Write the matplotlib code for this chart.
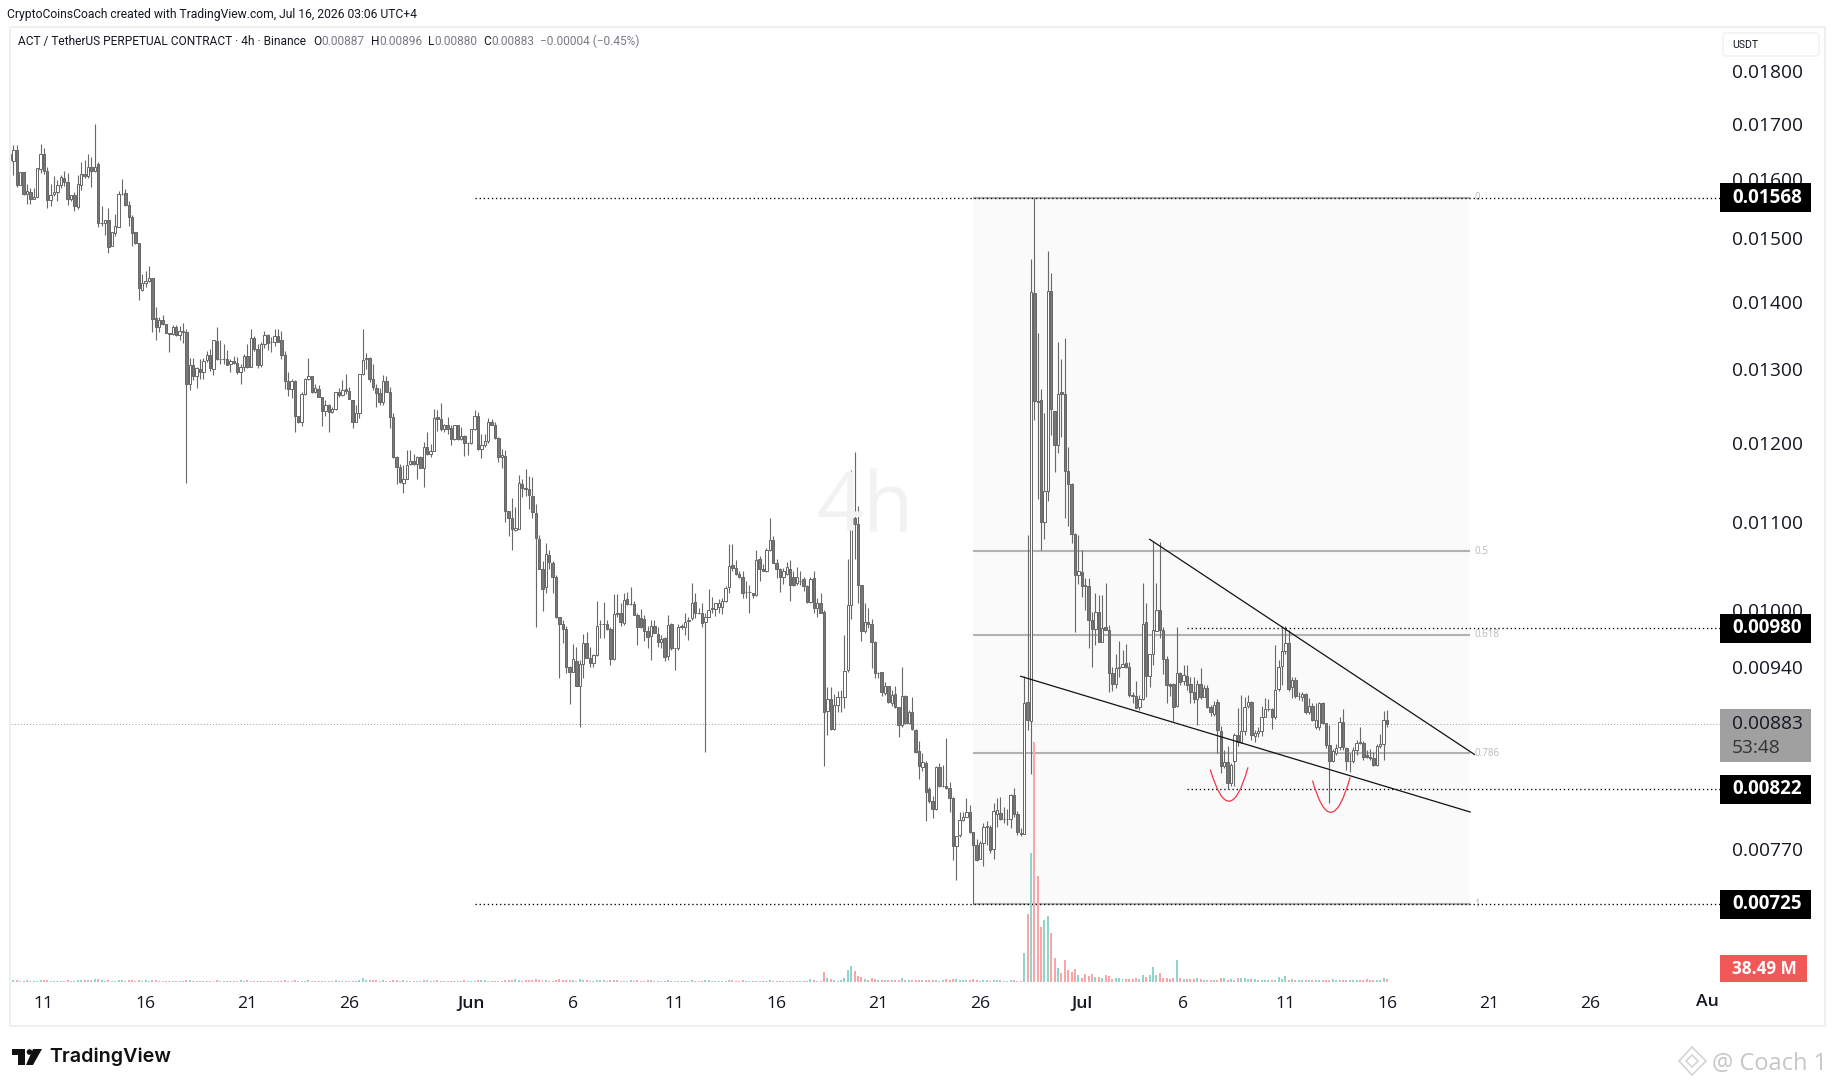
import pandas as pd
import matplotlib
matplotlib.use("Agg")
import matplotlib.pyplot as plt
import matplotlib.dates as mdates
from matplotlib.patches import Rectangle, Polygon, PathPatch, FancyBboxPatch
from matplotlib.path import Path
from matplotlib.ticker import NullLocator

# prices are in units of 0.00001 USDT, one row per 10 candles
opens = [
    1633, 1632, 1652, 1590, 1612, 1575, 1578, 1566, 1569, 1618,
    1644, 1615, 1564, 1574, 1577, 1590, 1602, 1595, 1565, 1572,
    1552, 1590, 1609, 1605, 1622, 1615, 1626, 1525, 1525, 1530,
    1488, 1508, 1519, 1574, 1576, 1555, 1535, 1510, 1492, 1417,
    1429, 1432, 1436, 1375, 1361, 1372, 1366, 1352, 1351, 1362,
    1350, 1355, 1354, 1280, 1306, 1291, 1301, 1297, 1313, 1321,
    1300, 1341, 1315, 1315, 1315, 1308, 1312, 1309, 1296, 1303,
    1319, 1304, 1345, 1329, 1306, 1336, 1350, 1340, 1340, 1348,
    1342, 1321, 1284, 1272, 1284, 1236, 1227, 1265, 1287, 1290,
    1268, 1273, 1262, 1242, 1250, 1241, 1245, 1268, 1264, 1273,
    1270, 1258, 1227, 1240, 1293, 1315, 1316, 1287, 1274, 1267,
    1254, 1284, 1268, 1234, 1182, 1169, 1149, 1153, 1172, 1176,
    1172, 1181, 1168, 1194, 1185, 1189, 1234, 1232, 1218, 1223,
    1220, 1205, 1224, 1205, 1209, 1200, 1200, 1218, 1236, 1192,
    1197, 1202, 1228, 1224, 1206, 1181, 1183, 1114, 1105, 1091,
    1092, 1147, 1142, 1141, 1132, 1112, 1080, 1046, 1025, 1062,
    1052, 1036, 992, 985, 979, 940, 934, 946, 920, 943,
    964, 949, 944, 952, 985, 985, 985, 979, 948, 996,
    997, 986, 1012, 1006, 1006, 994, 991, 990, 977, 972,
    983, 974, 966, 970, 951, 985, 959, 959, 982, 981,
    988, 991, 1009, 996, 996, 987, 992, 1002, 1001, 1003,
    1003, 1010, 1025, 1050, 1047, 1040, 1036, 1020, 1020, 1018,
    1016, 1057, 1045, 1043, 1068, 1079, 1052, 1045, 1036, 1040,
    1046, 1036, 1030, 1032, 1034, 1026, 1009, 1035, 1002, 1008,
    998, 895, 907, 878, 901, 909, 909, 936, 1005, 1105,
    1098, 1027, 977, 987, 985, 966, 933, 934, 913, 920,
    903, 912, 899, 882, 910, 884, 894, 877, 857, 842,
    846, 822, 812, 805, 842, 825, 825, 823, 814, 773,
    782, 795, 798, 802, 785, 774, 762, 775, 789, 789,
    770, 800, 801, 796, 796, 796, 817, 800, 784, 783,
    904, 886, 1413, 1256, 1258, 1100, 1138, 1416, 1243, 1197,
    1268, 1266, 1164, 1147, 1086, 1039, 1042, 1027, 1026, 989,
    979, 998, 966, 981, 978, 933, 922, 938, 940, 944,
    939, 911, 910, 899, 907, 987, 930, 953, 977, 1000,
    978, 948, 922, 922, 900, 933, 925, 930, 922, 914,
    907, 922, 909, 918, 899, 893, 904, 876, 843, 847,
    828, 848, 872, 866, 876, 900, 904, 871, 874, 876,
    890, 897, 897, 890, 917, 941, 956, 964, 919, 926,
    910, 909, 912, 894, 900, 880, 880, 903, 884, 863,
    848, 855, 861, 885, 860, 848, 848, 858, 866, 865,
    853, 852, 851, 844, 862, 864, 887,
]
highs = [
    1645, 1661, 1660, 1612, 1612, 1591, 1584, 1585, 1619, 1662,
    1656, 1622, 1591, 1605, 1598, 1607, 1614, 1610, 1573, 1577,
    1607, 1631, 1634, 1644, 1640, 1700, 1631, 1553, 1530, 1550,
    1510, 1540, 1580, 1601, 1583, 1563, 1538, 1510, 1492, 1442,
    1447, 1456, 1436, 1391, 1376, 1379, 1366, 1353, 1365, 1365,
    1363, 1368, 1359, 1317, 1316, 1303, 1315, 1316, 1326, 1330,
    1342, 1362, 1343, 1336, 1328, 1315, 1319, 1318, 1308, 1322,
    1336, 1359, 1348, 1336, 1339, 1355, 1351, 1347, 1359, 1359,
    1356, 1327, 1296, 1287, 1285, 1236, 1269, 1288, 1316, 1291,
    1280, 1278, 1262, 1257, 1252, 1248, 1269, 1274, 1285, 1294,
    1275, 1258, 1251, 1293, 1359, 1324, 1318, 1308, 1280, 1274,
    1292, 1291, 1275, 1240, 1183, 1172, 1171, 1190, 1190, 1185,
    1183, 1183, 1201, 1214, 1199, 1245, 1244, 1253, 1225, 1234,
    1224, 1224, 1224, 1221, 1210, 1201, 1218, 1244, 1241, 1212,
    1212, 1233, 1232, 1228, 1207, 1192, 1191, 1114, 1130, 1119,
    1159, 1153, 1166, 1157, 1156, 1122, 1085, 1055, 1076, 1068,
    1055, 1039, 992, 989, 982, 941, 963, 960, 947, 974,
    976, 960, 953, 1010, 989, 1009, 989, 981, 1017, 1017,
    1007, 1018, 1020, 1025, 1010, 996, 1001, 994, 983, 989,
    989, 981, 973, 971, 994, 986, 959, 985, 985, 996,
    992, 1030, 1018, 1002, 1008, 996, 1023, 1014, 1008, 1012,
    1013, 1026, 1075, 1074, 1056, 1043, 1043, 1032, 1027, 1019,
    1067, 1061, 1051, 1070, 1105, 1084, 1057, 1047, 1047, 1053,
    1056, 1043, 1048, 1043, 1037, 1028, 1037, 1043, 1013, 1019,
    1000, 919, 919, 912, 915, 916, 973, 1057, 1165, 1188,
    1120, 1027, 1007, 1002, 990, 967, 934, 934, 924, 920,
    916, 920, 899, 939, 911, 896, 909, 878, 867, 855,
    848, 824, 816, 843, 846, 844, 869, 829, 815, 781,
    802, 802, 814, 808, 785, 779, 777, 792, 794, 791,
    810, 814, 815, 806, 805, 818, 823, 803, 788, 930,
    1085, 1466, 1568, 1352, 1273, 1240, 1480, 1444, 1243, 1339,
    1315, 1346, 1195, 1148, 1087, 1085, 1067, 1035, 1035, 998,
    1019, 1016, 1016, 1030, 984, 939, 953, 967, 957, 963,
    945, 914, 925, 911, 1030, 1007, 953, 1078, 1030, 1077,
    981, 951, 923, 923, 981, 934, 942, 942, 929, 929,
    926, 938, 921, 921, 901, 905, 907, 881, 858, 862,
    846, 874, 898, 911, 909, 911, 905, 877, 880, 900,
    908, 907, 898, 962, 947, 983, 983, 978, 929, 929,
    914, 914, 913, 908, 903, 903, 904, 904, 884, 882,
    859, 864, 890, 897, 861, 855, 861, 868, 880, 867,
    858, 859, 856, 864, 873, 895, 896,
]
lows = [
    1630, 1607, 1586, 1590, 1572, 1557, 1558, 1565, 1569, 1610,
    1609, 1550, 1553, 1571, 1562, 1585, 1588, 1556, 1563, 1545,
    1549, 1581, 1602, 1602, 1586, 1613, 1519, 1520, 1506, 1476,
    1488, 1504, 1518, 1572, 1554, 1521, 1488, 1491, 1402, 1416,
    1422, 1430, 1354, 1343, 1354, 1365, 1352, 1325, 1350, 1349,
    1343, 1338, 1148, 1271, 1285, 1274, 1286, 1286, 1310, 1298,
    1292, 1314, 1308, 1308, 1306, 1296, 1308, 1294, 1280, 1298,
    1302, 1303, 1327, 1302, 1303, 1331, 1328, 1325, 1333, 1339,
    1315, 1273, 1263, 1260, 1214, 1226, 1222, 1264, 1285, 1267,
    1267, 1262, 1222, 1236, 1214, 1240, 1244, 1261, 1263, 1266,
    1259, 1220, 1227, 1233, 1292, 1301, 1282, 1271, 1248, 1251,
    1251, 1268, 1220, 1180, 1147, 1149, 1136, 1153, 1171, 1171,
    1153, 1168, 1143, 1184, 1182, 1189, 1215, 1216, 1214, 1212,
    1197, 1203, 1203, 1203, 1183, 1184, 1199, 1217, 1191, 1180,
    1194, 1200, 1223, 1205, 1175, 1168, 1100, 1084, 1067, 1090,
    1092, 1131, 1132, 1116, 1105, 981, 1045, 999, 1019, 1045,
    1018, 991, 928, 964, 933, 902, 934, 920, 880, 928,
    949, 940, 940, 951, 970, 970, 978, 942, 947, 992,
    983, 984, 1005, 1005, 994, 962, 980, 967, 959, 947,
    975, 960, 959, 946, 947, 957, 936, 957, 979, 973,
    968, 989, 991, 995, 981, 856, 992, 997, 993, 997,
    995, 1009, 1019, 1043, 1039, 1035, 1013, 1013, 996, 1013,
    1015, 1032, 1043, 1042, 1066, 1052, 1035, 1020, 1029, 1039,
    1010, 1026, 1028, 1028, 1021, 1008, 1007, 997, 992, 996,
    843, 872, 877, 877, 894, 894, 898, 934, 990, 1057,
    1008, 967, 975, 980, 938, 928, 928, 910, 911, 903,
    900, 898, 870, 880, 883, 883, 877, 855, 831, 839,
    794, 810, 797, 804, 824, 824, 822, 802, 761, 745,
    780, 794, 798, 784, 725, 760, 762, 756, 774, 767,
    762, 789, 795, 792, 791, 788, 798, 782, 781, 783,
    877, 836, 1230, 1128, 1067, 1080, 1126, 1210, 1162, 1187,
    1208, 1105, 1096, 1076, 976, 1029, 1014, 1000, 959, 940,
    962, 965, 965, 978, 914, 915, 918, 929, 940, 938,
    909, 903, 898, 896, 906, 909, 919, 942, 977, 970,
    932, 903, 910, 886, 899, 921, 921, 916, 903, 903,
    882, 907, 909, 898, 891, 891, 855, 837, 841, 822,
    825, 825, 862, 865, 872, 898, 868, 866, 870, 871,
    890, 895, 878, 888, 915, 921, 953, 915, 908, 908,
    906, 905, 893, 893, 886, 878, 877, 883, 860, 810,
    847, 853, 858, 858, 840, 838, 846, 853, 864, 849,
    851, 849, 843, 843, 860, 849, 880,
]
closes = [
    1645, 1652, 1590, 1612, 1575, 1580, 1565, 1570, 1619, 1644,
    1615, 1564, 1573, 1578, 1590, 1604, 1595, 1565, 1572, 1553,
    1592, 1609, 1605, 1622, 1615, 1622, 1526, 1526, 1530, 1486,
    1510, 1520, 1574, 1574, 1555, 1535, 1508, 1492, 1421, 1429,
    1432, 1437, 1374, 1361, 1372, 1366, 1353, 1351, 1362, 1350,
    1356, 1354, 1280, 1306, 1291, 1302, 1296, 1312, 1321, 1302,
    1342, 1315, 1315, 1315, 1307, 1312, 1309, 1296, 1303, 1319,
    1303, 1345, 1329, 1306, 1336, 1350, 1338, 1339, 1348, 1340,
    1320, 1284, 1272, 1284, 1235, 1227, 1266, 1287, 1290, 1268,
    1274, 1262, 1242, 1250, 1241, 1245, 1268, 1264, 1271, 1270,
    1259, 1227, 1240, 1293, 1314, 1316, 1287, 1275, 1267, 1254,
    1284, 1268, 1234, 1181, 1169, 1150, 1154, 1171, 1176, 1172,
    1181, 1168, 1194, 1185, 1189, 1233, 1232, 1218, 1224, 1218,
    1205, 1224, 1205, 1209, 1200, 1200, 1218, 1236, 1192, 1197,
    1202, 1228, 1224, 1206, 1181, 1184, 1114, 1105, 1092, 1093,
    1148, 1142, 1141, 1133, 1113, 1081, 1046, 1023, 1063, 1053,
    1036, 992, 985, 979, 940, 934, 948, 920, 943, 964,
    949, 944, 952, 983, 985, 985, 979, 948, 995, 995,
    987, 1011, 1006, 1006, 994, 981, 981, 977, 971, 983,
    975, 966, 969, 950, 984, 959, 959, 981, 981, 987,
    989, 1008, 996, 996, 986, 992, 1000, 1001, 1007, 1008,
    1010, 1024, 1049, 1047, 1040, 1036, 1019, 1020, 1020, 1016,
    1056, 1046, 1043, 1068, 1079, 1052, 1046, 1036, 1043, 1048,
    1027, 1027, 1036, 1032, 1026, 1009, 1034, 1002, 1008, 997,
    894, 907, 878, 901, 909, 909, 935, 1005, 1105, 1098,
    1027, 977, 987, 985, 965, 933, 933, 914, 920, 904,
    911, 899, 882, 910, 884, 894, 878, 856, 843, 847,
    820, 812, 805, 842, 825, 825, 823, 814, 773, 781,
    795, 798, 802, 785, 774, 761, 775, 789, 790, 769,
    803, 804, 796, 796, 796, 817, 800, 785, 783, 903,
    887, 1414, 1256, 1255, 1100, 1138, 1416, 1245, 1197, 1266,
    1266, 1164, 1147, 1086, 1039, 1043, 1026, 1026, 989, 979,
    998, 965, 980, 978, 933, 922, 938, 940, 943, 939,
    911, 910, 898, 907, 985, 930, 953, 978, 1000, 978,
    948, 921, 920, 899, 933, 924, 931, 921, 914, 907,
    922, 909, 918, 899, 894, 901, 877, 843, 847, 828,
    844, 872, 866, 876, 899, 904, 872, 874, 876, 890,
    897, 897, 890, 916, 940, 956, 964, 917, 926, 910,
    910, 912, 894, 900, 887, 887, 903, 884, 863, 848,
    857, 860, 885, 861, 848, 848, 858, 865, 865, 852,
    852, 851, 844, 862, 864, 887, 883,
]
# volume in millions
volumes = [
    15, 30, 30, 15, 15, 30, 15, 15, 15, 30, 30,
    30, 15, 15, 15, 15, 15, 30, 15, 15, 30,
    30, 30, 30, 30, 45, 45, 30, 15, 30, 15,
    15, 30, 30, 15, 30, 30, 15, 30, 15, 30,
    15, 30, 30, 15, 15, 15, 15, 15, 15, 15,
    15, 30, 30, 15, 15, 15, 15, 15, 15, 15,
    30, 15, 15, 15, 15, 15, 15, 30, 15, 30,
    15, 15, 15, 15, 15, 15, 15, 15, 15, 15,
    30, 15, 15, 30, 15, 15, 15, 30, 15, 15,
    15, 15, 15, 15, 15, 30, 15, 15, 15, 15,
    15, 15, 30, 60, 30, 30, 30, 30, 15, 30,
    15, 15, 30, 30, 15, 30, 15, 15, 15, 15,
    15, 30, 30, 15, 15, 30, 15, 15, 15, 15,
    15, 15, 15, 30, 15, 15, 15, 30, 30, 30,
    15, 15, 15, 15, 15, 30, 30, 30, 45, 30,
    15, 30, 30, 30, 45, 30, 30, 30, 15, 15,
    30, 45, 30, 30, 30, 30, 15, 45, 30, 30,
    15, 15, 30, 30, 30, 15, 30, 30, 30, 15,
    15, 15, 30, 15, 30, 15, 15, 30, 30, 15,
    15, 15, 15, 30, 15, 15, 15, 15, 15, 15,
    30, 15, 15, 15, 30, 30, 15, 15, 15, 15,
    15, 30, 30, 15, 15, 30, 15, 15, 15, 15,
    15, 15, 15, 30, 15, 15, 15, 15, 15, 15,
    15, 15, 15, 15, 15, 45, 30, 15, 15, 150,
    60, 45, 30, 15, 30, 60, 180, 240, 165, 90,
    75, 45, 30, 60, 45, 30, 30, 30, 30, 30,
    30, 30, 60, 30, 30, 30, 30, 30, 30, 30,
    30, 30, 30, 15, 30, 45, 30, 45, 45, 30,
    30, 30, 30, 45, 30, 15, 30, 30, 15, 30,
    30, 30, 15, 15, 30, 30, 15, 15,
    435, 1020, 1935, 3600, 1590, 825, 930, 990, 735, 360, 210,
    135, 330, 180, 150, 195, 105, 60, 120, 90, 120,
    75, 75, 60, 105, 90, 45, 60, 60, 45, 45,
    45, 45, 60, 45, 105, 75, 105, 225, 105, 135,
    60, 60, 45, 60, 330, 60, 45, 45, 45, 45,
    60, 45, 30, 30, 30, 30, 30, 60, 60, 30,
    45, 30, 60, 60, 60, 45, 45, 45, 30, 30,
    30, 30, 30, 30, 75, 45, 90, 30, 45, 30,
    30, 30, 30, 30, 30, 30, 30, 30, 30, 30,
    45, 30, 30, 30, 30, 30, 30, 30, 30, 30,
    45, 30, 30, 30, 30, 60, 38.49,
]

price_ticks = [1800, 1700, 1600, 1500, 1400, 1300, 1200, 1100, 1000, 940, 770]
date_ticks = ["2026-05-11", "2026-05-16", "2026-05-21", "2026-05-26", "2026-06-01", "2026-06-06",
              "2026-06-11", "2026-06-16", "2026-06-21", "2026-06-26", "2026-07-01", "2026-07-06",
              "2026-07-11", "2026-07-16", "2026-07-21", "2026-07-26"]
date_labels = ["11", "16", "21", "26", "Jun", "6", "11", "16", "21", "26", "Jul", "6", "11", "16", "21", "26"]

fib_levels = [1568, 1066, 973, 855, 725]
fib_labels = ["0", "0.5", "0.618", "0.786", "1"]

assert len(opens) == len(highs) == len(lows) == len(closes) == len(volumes), (
    len(opens), len(highs), len(lows), len(closes), len(volumes))

W, H = 1835, 1086
FONT = "Open Sans"
TEXT = "#131722"
GREY_LINE = "#686868"
plt.rcParams["font.family"] = FONT


def d(s):
    return mdates.date2num(pd.Timestamp(s))


def p(v):
    return v * 1e-5


dates = pd.date_range(end="2026-07-16 00:00", periods=len(opens), freq="4h")
x = mdates.date2num(dates)
o = [p(v) for v in opens]
h = [p(v) for v in highs]
l = [p(v) for v in lows]
c = [p(v) for v in closes]

fig = plt.figure(figsize=(W / 100, H / 100), dpi=100, facecolor="white")

# price pane, pixel rect 11..1720 / 28..985
ax = fig.add_axes([11 / W, 1 - 985 / H, 1709 / W, 957 / H])
ax.set_frame_on(False)
ax.set_yscale("log")
xlim = (d("2026-05-11") - 1.617, d("2026-05-11") + 82.36)
ax.set_xlim(*xlim)
ax.set_ylim(0.00664, 0.01887)

# fib box
box_l, box_r = d("2026-06-25 16:00"), d("2026-07-20 02:00")
ax.fill_between([box_l, box_r], p(fib_levels[-1]), p(fib_levels[0]), color="#fafafa", lw=0, zorder=1)
for lev, lab in zip(fib_levels, fib_labels):
    ax.plot([box_l, box_r], [p(lev), p(lev)], color="#b2b2b2", lw=1.5, zorder=2, solid_capstyle="butt")
    ax.text(d("2026-07-20 07:00"), p(lev), lab, color="#b8b8b8", fontsize=7, va="center", ha="left", zorder=2)

# dotted levels
dots = (0, (1, 2.1))
ax.axhline(p(883), color="#a0a0a0", lw=0.72, ls=dots, zorder=2)
ax.plot([d("2026-06-01 04:00"), xlim[1]], [p(1568)] * 2, color="black", lw=0.95, ls=dots, zorder=3)
ax.plot([d("2026-06-01 04:00"), xlim[1]], [p(725)] * 2, color="black", lw=0.95, ls=dots, zorder=3)
ax.plot([d("2026-07-06 04:00"), xlim[1]], [p(980)] * 2, color="black", lw=0.95, ls=dots, zorder=3)
ax.plot([d("2026-07-06 04:00"), xlim[1]], [p(822)] * 2, color="black", lw=0.95, ls=dots, zorder=3)

# candles
ax.vlines(x, l, h, color=GREY_LINE, lw=0.8, zorder=4)
bar_w = 0.118
up = [i for i in range(len(o)) if c[i] >= o[i]]
down = [i for i in range(len(o)) if c[i] < o[i]]
ax.bar([x[i] for i in up], [c[i] - o[i] for i in up], bottom=[o[i] for i in up], width=bar_w,
       facecolor="white", edgecolor=GREY_LINE, lw=0.72, zorder=5)
ax.bar([x[i] for i in down], [o[i] - c[i] for i in down], bottom=[c[i] for i in down], width=bar_w,
       facecolor="#787878", edgecolor=GREY_LINE, lw=0.72, zorder=5)

# trend lines
ax.plot([d("2026-07-04 08:00"), d("2026-07-20 07:00")], [p(1080), p(854)], color="#111111", lw=0.9, zorder=6)
ax.plot([d("2026-06-28 00:00"), d("2026-07-20 02:00")], [p(930), p(802)], color="#111111", lw=0.9, zorder=6)

# red arcs under the two lows
for start, ctrl, end, p0, pc, p1 in [
    ("2026-07-07 07:30", "2026-07-08 06:00", "2026-07-09 04:00", 840, 783, 842),
    ("2026-07-12 08:00", "2026-07-13 06:00", "2026-07-14 04:30", 830, 773, 833),
]:
    arc = Path([(d(start), p(p0)), (d(ctrl), p(pc)), (d(end), p(p1))], [Path.MOVETO, Path.CURVE3, Path.CURVE3])
    ax.add_patch(PathPatch(arc, fc="none", ec="#f23645", lw=0.9, zorder=6))

# axis labels
ax.yaxis.tick_right()
ax.set_yticks([p(v) for v in price_ticks], labels=[f"{p(v):.5f}" for v in price_ticks])
ax.yaxis.set_minor_locator(NullLocator())
ax.set_xticks([d(s) for s in date_ticks], labels=date_labels)
ax.xaxis.set_minor_locator(NullLocator())
ax.tick_params(axis="y", length=0, pad=8.7, labelsize=13.8, labelcolor=TEXT)
ax.tick_params(axis="x", length=0, pad=8, labelsize=12.6, labelcolor=TEXT)
for lab in ax.get_xticklabels():
    if lab.get_text() in ("Jun", "Jul"):
        lab.set_fontweight("semibold")

# volume, pixel rect up to baseline y=982, 15M per pixel
ax_vol = fig.add_axes([11 / W, 1 - 982 / H, 1709 / W, 282 / H], sharex=ax)
ax_vol.patch.set_visible(False)
ax_vol.axis("off")
ax_vol.set_ylim(0, 282 * 15)
vol_colors = ["#92d4cc" if c[i] >= o[i] else "#faa5a7" for i in range(len(o))]
ax_vol.bar(x, volumes, width=0.098, color=vol_colors, lw=0)
ax_vol.set_xlim(*xlim)

# everything around the chart, in pixel coords
ui = fig.add_axes([0, 0, 1, 1], zorder=10)
ui.set_xlim(0, W)
ui.set_ylim(H, 0)
ui.axis("off")
ui.patch.set_visible(False)


def price_y(v):
    return ui.transData.inverted().transform(ax.transData.transform((xlim[0], p(v))))[1]


ui.add_patch(Rectangle((10, 27), 1815, 999, fc="none", ec="#f0f0f0", lw=1.5))
ui.text(865, 510, "4h", color="#f2f2f2", fontsize=59, ha="center", va="center", zorder=0)

# header lines
ui.text(7, 14.5, "CryptoCoinsCoach created with TradingView.com, Jul 16, 2026 03:06 UTC+4",
        fontsize=8.7, family="Roboto", color=TEXT, va="center")
GREY_TXT = "#787b86"
for tx, s, col in [
    (18, "ACT / TetherUS PERPETUAL CONTRACT \u00b7 4h \u00b7 Binance", TEXT),
    (313, "O", TEXT), (321, "0.00887", GREY_TXT),
    (371, "H", TEXT), (379, "0.00896", GREY_TXT),
    (428, "L", TEXT), (434, "0.00880", GREY_TXT),
    (483, "C", TEXT), (491, "0.00883", GREY_TXT),
    (540, "\u22120.00004 (\u22120.45%)", GREY_TXT),
]:
    ui.text(tx, 41.5, s, fontsize=8.6, family="Roboto", color=col, va="center")

# price tags
for v in (1568, 980, 822, 725):
    y = price_y(v)
    ui.add_patch(Rectangle((1720, y - 14.5), 91, 29, fc="black", ec="none", zorder=2))
    ui.text(1732, y, f"{p(v):.5f}", color="white", fontsize=13.6, fontweight="bold", va="center", zorder=3)
y = price_y(883)
ui.add_patch(Rectangle((1720, y - 15), 91, 53, fc="#a0a0a0", ec="none", zorder=2))
ui.text(1732, y, f"{p(883):.5f}", color=TEXT, fontsize=13.8, va="center", zorder=3)
ui.text(1732, y + 24, "53:48", color="#333333", fontsize=13.8, va="center", zorder=3)
ui.add_patch(Rectangle((1720, 955), 87, 27, fc="#f25858", ec="none", zorder=2))
ui.text(1732, 969, "38.49 M", color="white", fontsize=12.4, fontweight="bold", va="center", zorder=3)
ui.text(1696, 1002, "Au", color=TEXT, fontsize=12.6, fontweight="semibold", va="center")

# currency button
ui.add_patch(FancyBboxPatch((1723, 33), 96, 23, boxstyle="round,pad=0,rounding_size=3", fc="white", ec="#f0f0f0", lw=1))
ui.text(1732, 45, "USDT", color=TEXT, fontsize=7.6, family="Roboto", va="center")

# TradingView logo
ui.add_patch(Polygon([(12, 1049), (25, 1049), (25, 1065), (18, 1065), (18, 1055), (12, 1055)], fc="#111111", ec="none"))
ui.add_patch(Polygon([(33, 1049), (42, 1049), (33, 1065), (26, 1065)], fc="#111111", ec="none"))
ui.add_patch(plt.Circle((29.5, 1052), 2.8, fc="#111111", ec="none"))
ui.text(49, 1057, "TradingView", color="#111111", fontsize=14.2, family="Inter", fontweight="semibold", va="center")

# binance square watermark
ui.add_patch(Polygon([(1692, 1047), (1706, 1061), (1692, 1075), (1679, 1061)], fc="none", ec="#d4d4d4", lw=1.2))
ui.add_patch(Polygon([(1692, 1055), (1698, 1061), (1692, 1067), (1686, 1061)], fc="none", ec="#d4d4d4", lw=1.2))
ui.text(1712, 1064, "@ Coach 1", color="#c6c6c6", fontsize=17, va="center")

fig.savefig("out.png", dpi=100)
